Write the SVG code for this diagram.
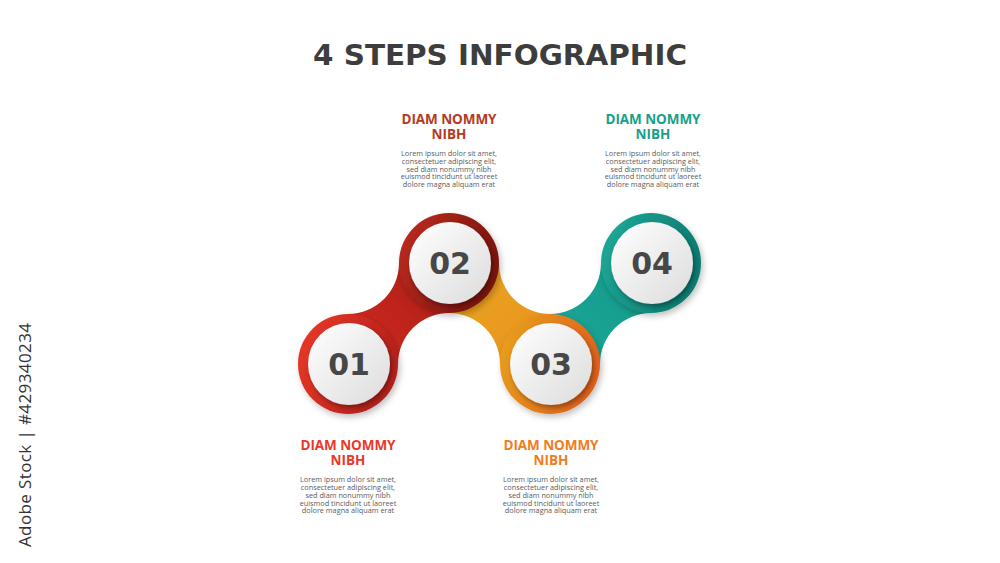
<svg xmlns="http://www.w3.org/2000/svg" width="1000" height="563" viewBox="0 0 1000 563">
<style>
.title{font-family:"DejaVu Sans","Open Sans",sans-serif;font-weight:700;font-size:29px;fill:#3d3d3d;text-anchor:middle}
.head{font-family:"Open Sans","Liberation Sans",sans-serif;font-weight:700;font-size:13.5px;text-anchor:middle}
.body{font-family:"Open Sans","Liberation Sans",sans-serif;font-size:7.3px;fill:#5a5a5a;text-anchor:middle}
.num{font-family:"DejaVu Sans","Open Sans",sans-serif;font-weight:700;font-size:30px;fill:#474747;text-anchor:middle}
.wm{font-family:"Open Sans","Liberation Sans",sans-serif;font-size:17px;fill:#333}
.inner{fill:url(#gWhite);filter:url(#shIn)}
</style>
<defs>
<filter id="sh" x="-30%" y="-30%" width="160%" height="160%"><feDropShadow dx="2" dy="3" stdDeviation="3" flood-color="#000" flood-opacity="0.25"/></filter>
<filter id="shIn" x="-30%" y="-30%" width="160%" height="160%"><feDropShadow dx="2" dy="3" stdDeviation="2.5" flood-color="#000" flood-opacity="0.35"/></filter>
<linearGradient id="gWhite" x1="0" y1="0" x2="1" y2="1"><stop offset="0" stop-color="#ffffff"/><stop offset="1" stop-color="#dcdcdc"/></linearGradient>
<linearGradient id="g1" x1="0" y1="0" x2="1" y2="0.4"><stop offset="0" stop-color="#ec3a29"/><stop offset="1" stop-color="#b4201a"/></linearGradient>
<linearGradient id="g12" x1="0" y1="1" x2="1" y2="0"><stop offset="0" stop-color="#d42b1f"/><stop offset="1" stop-color="#a81d16"/></linearGradient>
<linearGradient id="g2" x1="0" y1="0" x2="1" y2="0.4"><stop offset="0" stop-color="#c02d1f"/><stop offset="1" stop-color="#7a130e"/></linearGradient>
<linearGradient id="g23" x1="0" y1="0" x2="1" y2="1"><stop offset="0" stop-color="#eaa820"/><stop offset="1" stop-color="#e8901e"/></linearGradient>
<linearGradient id="g3" x1="0" y1="0" x2="1" y2="0.3"><stop offset="0" stop-color="#e8a420"/><stop offset="1" stop-color="#e0621a"/></linearGradient>
<linearGradient id="g34" x1="0" y1="1" x2="1" y2="0"><stop offset="0" stop-color="#1aa896"/><stop offset="1" stop-color="#14998a"/></linearGradient>
<linearGradient id="g4" x1="0" y1="0" x2="1" y2="0.3"><stop offset="0" stop-color="#1eab98"/><stop offset="1" stop-color="#0d7b71"/></linearGradient>
</defs>
<rect width="1000" height="563" fill="#ffffff"/>
<text class="title" x="500" y="65" textLength="374" lengthAdjust="spacingAndGlyphs">4 STEPS INFOGRAPHIC</text>
<text class="wm" transform="translate(31,547) rotate(-90)" textLength="224">Adobe Stock | #429340234</text>
<g id="connectors">
<path d="M348,314 A51 51 0 0 0 399,263 L449,263 L449,313 A51 51 0 0 0 398,364 L348,364 Z" fill="url(#g12)"/>
<path d="M499,263 A51 51 0 0 0 550,314 L550,364 L500,364 A51 51 0 0 0 449,313 L449,263 Z" fill="url(#g23)"/>
<path d="M550,314 A51 51 0 0 0 601,263 L651,263 L651,313 A51 51 0 0 0 600,364 L550,364 Z" fill="url(#g34)"/>
</g>
<g id="step1">
<circle cx="348" cy="364" r="50" fill="url(#g1)" filter="url(#sh)"/>
<circle class="inner" cx="349" cy="364" r="41"/>
<text class="num" x="349" y="375">01</text>
<text class="head" x="348" y="450" fill="#e8392a" textLength="95">DIAM NOMMY</text>
<text class="head" x="348" y="465" fill="#e8392a">NIBH</text>
<text class="body" x="348" y="481.5">Lorem ipsum dolor sit amet,</text>
<text class="body" x="348" y="489.5">consectetuer adipiscing elit,</text>
<text class="body" x="348" y="497.5">sed diam nonummy nibh</text>
<text class="body" x="348" y="505.5">euismod tincidunt ut laoreet</text>
<text class="body" x="348" y="513">dolore magna aliquam erat</text>
</g>
<g id="step2">
<circle cx="449" cy="263" r="50" fill="url(#g2)" filter="url(#sh)"/>
<circle class="inner" cx="450" cy="263" r="41"/>
<text class="num" x="450" y="274">02</text>
<text class="head" x="449" y="124" fill="#b53a22" textLength="95">DIAM NOMMY</text>
<text class="head" x="449" y="139" fill="#b53a22">NIBH</text>
<text class="body" x="449" y="155.5">Lorem ipsum dolor sit amet,</text>
<text class="body" x="449" y="163.5">consectetuer adipiscing elit,</text>
<text class="body" x="449" y="171.5">sed diam nonummy nibh</text>
<text class="body" x="449" y="179">euismod tincidunt ut laoreet</text>
<text class="body" x="449" y="187">dolore magna aliquam erat</text>
</g>
<g id="step3">
<circle cx="550" cy="364" r="50" fill="url(#g3)" filter="url(#sh)"/>
<circle class="inner" cx="551" cy="364" r="41"/>
<text class="num" x="551" y="375">03</text>
<text class="head" x="551" y="450" fill="#f07c1d" textLength="95">DIAM NOMMY</text>
<text class="head" x="551" y="465" fill="#f07c1d">NIBH</text>
<text class="body" x="551" y="481.5">Lorem ipsum dolor sit amet,</text>
<text class="body" x="551" y="489.5">consectetuer adipiscing elit,</text>
<text class="body" x="551" y="497.5">sed diam nonummy nibh</text>
<text class="body" x="551" y="505.5">euismod tincidunt ut laoreet</text>
<text class="body" x="551" y="513">dolore magna aliquam erat</text>
</g>
<g id="step4">
<circle cx="651" cy="263" r="50" fill="url(#g4)" filter="url(#sh)"/>
<circle class="inner" cx="652" cy="263" r="41"/>
<text class="num" x="652" y="274">04</text>
<text class="head" x="653" y="124" fill="#17a08b" textLength="95">DIAM NOMMY</text>
<text class="head" x="653" y="139" fill="#17a08b">NIBH</text>
<text class="body" x="653" y="155.5">Lorem ipsum dolor sit amet,</text>
<text class="body" x="653" y="163.5">consectetuer adipiscing elit,</text>
<text class="body" x="653" y="171.5">sed diam nonummy nibh</text>
<text class="body" x="653" y="179">euismod tincidunt ut laoreet</text>
<text class="body" x="653" y="187">dolore magna aliquam erat</text>
</g>
</svg>
